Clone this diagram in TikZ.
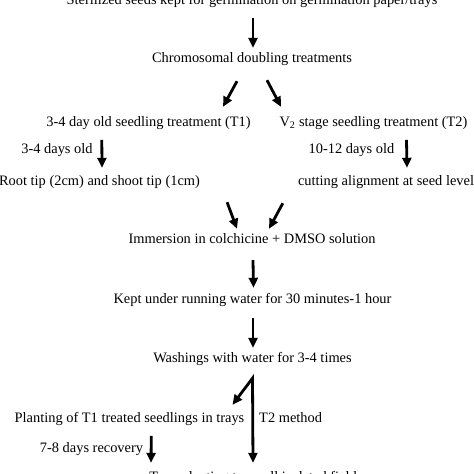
\documentclass[tikz,border=0pt]{standalone}
\usepackage{fontspec}
\setmainfont{Liberation Serif}
\usepackage{tikz}
\usetikzlibrary{arrows.meta,shapes}

\tikzset{
  txt/.style={inner sep=0pt, anchor=base, text height=10pt, text depth=3pt,
    font=\fontsize{14.4}{17}\selectfont},
  arr/.style={-{Triangle[length=10pt,width=9pt]}, line width=2.8pt},
}

\begin{document}
\begin{tikzpicture}[x=1pt,y=-1pt]
        \useasboundingbox (0,0) rectangle (474,474);
        % steps
        \node[txt] (seeds) at (252,4) {Sterilized seeds kept for germination on germination paper/trays};
        \node[txt] (dbl) at (252,62) {Chromosomal doubling treatments};
        \node[txt] (tone) at (148.5,126) {3-4 day old seedling treatment (T1)};
        \node[txt] (ttwo) at (373.5,126) {V\textsubscript{2} stage seedling treatment (T2)};
        \node[txt] (days34) at (57,153) {3-4 days old};
        \node[txt] (days1012) at (351.5,153) {10-12 days old};
        \node[txt] (root) at (99.5,185) {Root tip (2cm) and shoot tip (1cm)};
        \node[txt] (cut) at (386,185) {cutting alignment at seed level};
        \node[txt] (imm) at (252,243) {Immersion in colchicine + DMSO solution};
        \node[txt] (kept) at (252.5,303) {Kept under running water for 30 minutes-1 hour};
        \node[txt] (wash) at (252.5,362) {Washings with water for 3-4 times};
        \node[txt] (plant) at (129.5,422) {Planting of T1 treated seedlings in trays};
        \node[txt, anchor=base west] (tmeth) at (259,422) {T2 method};
        \node[txt] (recov) at (91.5,452) {7-8 days recovery};
        \node[txt] (field) at (253,481) {Transplanting to small isolated field};
        % arrows
        \draw[arr] ([shift={(1pt,-11pt)}]seeds.south) -- ([shift={(1pt,4pt)}]dbl.north);
        \draw[arr] ([shift={(-15pt,-16pt)}]dbl.south) -- ([shift={(74.5pt,9pt)}]tone.north);
        \draw[arr] ([shift={(15pt,-15pt)}]dbl.south) -- ([shift={(-92.5pt,9pt)}]ttwo.north);
        \draw[arr] ([shift={(9pt,3pt)}]days34.north east) -- ([shift={(2.5pt,7pt)}]root.north);
        \draw[arr] ([shift={(12pt,3pt)}]days1012.north east) -- ([shift={(21pt,7pt)}]cut.north);
        \draw[arr] ([shift={(27pt,-14pt)}]root.south east) -- ([shift={(-15pt,4pt)}]imm.north);
        \draw[arr] ([shift={(-15pt,-15pt)}]cut.south west) -- ([shift={(17pt,4pt)}]imm.north);
        \draw[arr] ([shift={(1pt,-14pt)}]imm.south) -- ([shift={(1pt,5pt)}]kept.north);
        \draw[arr] ([shift={(0.5pt,-12pt)}]kept.south) -- ([shift={(0.5pt,4pt)}]wash.north);
        \draw[arr, {Triangle[length=10pt,width=9pt]}-{Triangle[length=10pt,width=9pt]}, line join=miter]
          ([shift={(-12pt,7pt)}]plant.north east) -- ([shift={(0pt,-13pt)}]wash.south) -- ([shift={(0pt,8pt)}]field.north);
        \draw[arr] ([shift={(8pt,6pt)}]recov.north east) -- ([shift={(-102pt,8pt)}]field.north);
    \end{tikzpicture}
\end{document}
